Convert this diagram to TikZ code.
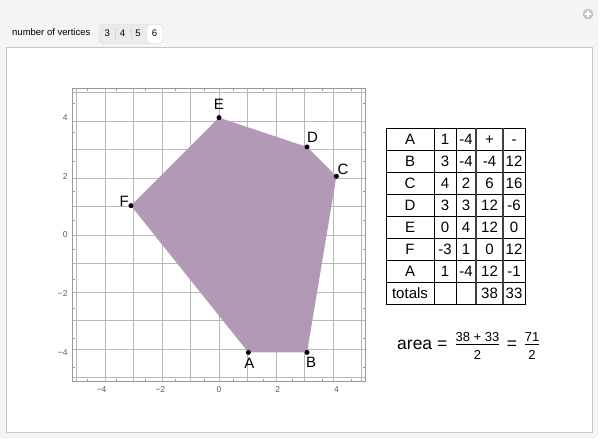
\documentclass[tikz,border=0pt]{standalone}
\usepackage{fontspec}
\setmainfont{Liberation Sans}
\usepackage{tikz}
\usetikzlibrary{positioning, calc}
\definecolor{panelgray}{rgb}{0.96, 0.96, 0.96}
\definecolor{panelline}{rgb}{0.88, 0.88, 0.88}
\definecolor{boxline}{rgb}{0.78, 0.78, 0.78}
\definecolor{btnfill}{rgb}{0.92, 0.92, 0.92}
\definecolor{btnline}{rgb}{0.84, 0.84, 0.84}
\definecolor{gridgray}{rgb}{0.72, 0.72, 0.72}
\definecolor{framegray}{rgb}{0.6, 0.6, 0.6}
\definecolor{ticktext}{rgb}{0.35, 0.35, 0.35}
\definecolor{polyviolet}{rgb}{0.70, 0.60, 0.71}

\begin{document}
\begin{tikzpicture}[x=1pt, y=-1pt]
			\tikzstyle{vtx}=[circle, fill=black, inner sep=0pt, minimum size=5pt]
			\tikzstyle{vlab}=[inner sep=0pt, font=\fontsize{15}{15}\selectfont]
			\tikzstyle{cell}=[inner sep=0pt, text height=10.5pt, text depth=0pt, font=\fontsize{15}{15}\selectfont]
			\tikzstyle{ticklab}=[inner sep=0pt, text=ticktext, font=\fontsize{8.5}{9}\selectfont]
			\tikzstyle{btn}=[inner sep=0pt, font=\fontsize{9.5}{10}\selectfont]
			\tikzstyle{bigtxt}=[inner sep=0pt, font=\fontsize{17.5}{17.5}\selectfont]
			\tikzstyle{fractxt}=[inner sep=0pt, font=\fontsize{13}{13}\selectfont]
			
			\useasboundingbox (0,0) rectangle (600,440);
			\fill[white] (0,0) rectangle (600,440);
			\draw[panelline, fill=panelgray, rounded corners=5pt] (-3,-3) rectangle (597.5,437.5);
			\draw[boxline, fill=white] (6.5,47.5) rectangle (592.5,432.5);
			
			%% plus icon
			\node (plus) at (588,14) [circle, fill=black!22, minimum size=11pt, inner sep=0pt] {};
			\draw[white, line width=1.4pt] ($(plus)+(-3,0)$) -- ($(plus)+(3,0)$);
			\draw[white, line width=1.4pt] ($(plus)+(0,-3)$) -- ($(plus)+(0,3)$);
			
			%% control bar
			\node (ctl) at (12,32.5) [btn, anchor=west] {number of vertices};
			\draw[btnline, fill=btnfill, rounded corners=4pt] (99,24.5) rectangle (163,43.5);
			\draw[btnline, fill=white, rounded corners=4pt] (146.5,24.5) rectangle (163,43.5);
			\draw[btnline] (115,28) -- (115,40);
			\draw[btnline] (130.7,28) -- (130.7,40);
			\foreach \v/\xp in {3/107.3, 4/122.5, 5/138, 6/154.5}
				\node (b\v) at (\xp,33) [btn] {\v};
			
			%% plot
			\begin{scope}[shift={(219,235)}, x=29.35pt, y=29.35pt]
				\draw[gridgray, line width=0.6pt] (-5,-5) grid (5,5);
				\coordinate (pA) at (1,-4);
				\coordinate (pB) at (3,-4);
				\coordinate (pC) at (4,2);
				\coordinate (pD) at (3,3);
				\coordinate (pE) at (0,4);
				\coordinate (pF) at (-3,1);
				\fill[polyviolet] (pA) -- (pB) -- (pC) -- (pD) -- (pE) -- (pF) -- cycle;
				\draw[framegray, line width=0.7pt] (-5,-5) rectangle (5,5);
				\foreach \t in {-4.5,-3.5,...,4.5} {
					\draw[framegray] (\t,-5) -- ++(0,0.09);
					\draw[framegray] (\t,5) -- ++(0,-0.09);
					\draw[framegray] (-5,\t) -- ++(0.09,0);
					\draw[framegray] (5,\t) -- ++(-0.09,0);
				}
				\foreach \t/\s [count=\i] in {-4/−4, -2/−2, 0/0, 2/2, 4/4} {
					\node (xl\i) [ticklab, below=5pt] at (\t,-5) {\s};
					\node (yl\i) [ticklab, left=4.5pt] at (-5,\t) {\s};
				}
				
				\node (vA) at (pA) [vtx] {};
				\node (vB) at (pB) [vtx] {};
				\node (vC) at (pC) [vtx] {};
				\node (vD) at (pD) [vtx] {};
				\node (vE) at (pE) [vtx] {};
				\node (vF) at (pF) [vtx] {};
				
				\node [below=3pt of vA, xshift=1pt, vlab] (lA) {A};
				\node [below=1.5pt of vB, xshift=4pt, vlab] (lB) {B};
				\node [above right=-0.5pt and -1pt of vC, vlab] (lC) {C};
				\node [above right=2pt and -2pt of vD, vlab] (lD) {D};
				\node [above=5pt of vE, vlab] (lE) {E};
				\node [above left=-3pt and 0pt of vF, vlab] (lF) {F};
			\end{scope}
			
			%% table
			\draw (386,128) rectangle (525,304);
			\foreach \r in {1,...,7}
				\draw (386,{128+22*\r}) -- (525,{128+22*\r});
			\draw (434,128) -- (434,304);
			\draw (456,128) -- (456,304);
			\draw[line width=1.3pt, black!75] (476,128) -- (476,304);
			\draw[line width=1.3pt, black!75] (503,128) -- (503,304);
			\foreach \lab/\xv/\yv/\pl/\mi [count=\r] in {A/1/-4/+/-, B/3/-4/-4/12, C/4/2/6/16, D/3/3/12/-6, E/0/4/12/0, F/-3/1/0/12, A/1/-4/12/-1, totals/{}/{}/38/33} {
				\node (c\r a) at (410,{117+22*\r}) [cell] {\lab};
				\node (c\r b) at (445,{117+22*\r}) [cell] {\xv};
				\node (c\r c) at (466,{117+22*\r}) [cell] {\yv};
				\node (c\r d) at (489.5,{117+22*\r}) [cell] {\pl};
				\node (c\r e) at (514,{117+22*\r}) [cell] {\mi};
			}
			
			%% area
			\node (area) at (397,349.5) [bigtxt, anchor=base west] {area =};
			\node (num1) at (477.5,337) [fractxt] {38 + 33};
			\node (den1) at (477.5,354.5) [fractxt] {2};
			\coordinate (bar1l) at (456,344.5);
			\coordinate (bar1r) at (499,344.5);
			\draw[line width=0.7pt] (bar1l) -- (bar1r);
			\node (eq2) at (512,349.5) [bigtxt, anchor=base] {=};
			\node (num2) at (532,337) [fractxt] {71};
			\node (den2) at (532,354.5) [fractxt] {2};
			\coordinate (bar2l) at (525,344.5);
			\coordinate (bar2r) at (539,344.5);
			\draw[line width=0.7pt] (bar2l) -- (bar2r);
\end{tikzpicture}
\end{document}
